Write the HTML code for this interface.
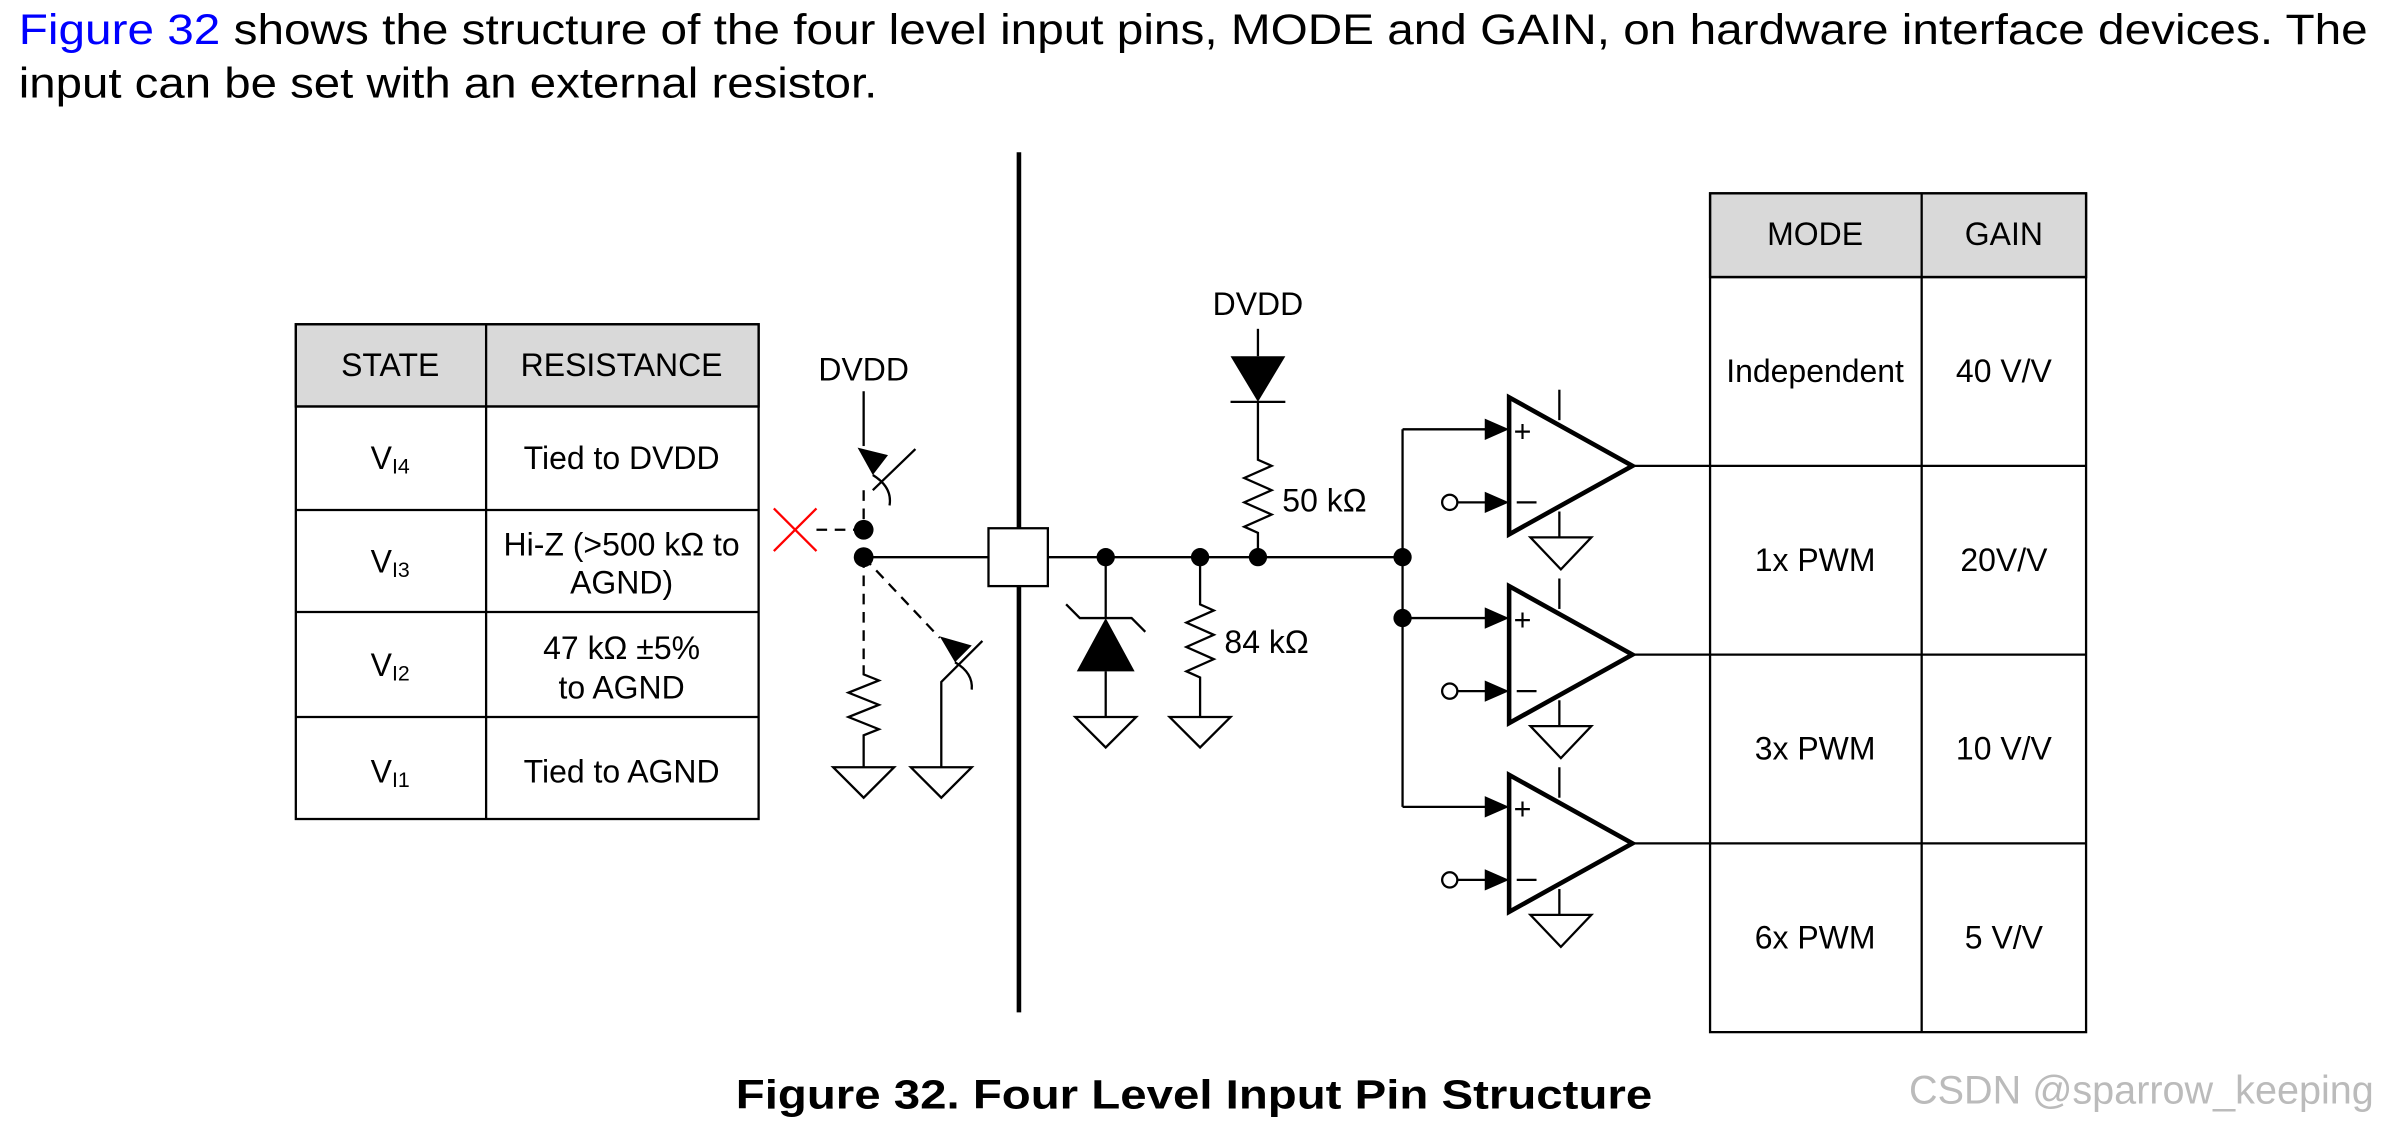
<!DOCTYPE html>
<html><head><meta charset="utf-8"><style>html,body{margin:0;padding:0;background:#fff;}svg{display:block}</style></head>
<body>
<svg xmlns="http://www.w3.org/2000/svg" width="2388" height="1125" viewBox="0 0 1568 739" font-family="Liberation Sans, sans-serif">
<rect width="1568" height="739" fill="#fff"/>
<!-- header text -->
<text x="12" y="29" font-size="28" textLength="1543" lengthAdjust="spacingAndGlyphs"><tspan fill="#0000ff">Figure 32</tspan> shows the structure of the four level input pins, MODE and GAIN, on hardware interface devices. The</text>
<text x="12" y="64" font-size="28" textLength="564" lengthAdjust="spacingAndGlyphs">input can be set with an external resistor.</text>

<!-- left table -->
<g stroke="#000" stroke-width="1.5" fill="none">
<rect x="194" y="213" width="304" height="54" fill="#d9d9d9"/>
<rect x="194" y="213" width="304" height="325"/>
<line x1="319" y1="213" x2="319" y2="538"/>
<line x1="194" y1="267" x2="498" y2="267"/>
<line x1="194" y1="335" x2="498" y2="335"/>
<line x1="194" y1="402" x2="498" y2="402"/>
<line x1="194" y1="471" x2="498" y2="471"/>
</g>
<g font-size="21" text-anchor="middle">
<text x="256" y="247">STATE</text><text x="408" y="247">RESISTANCE</text>
<text x="256" y="308">V<tspan font-size="14" dy="3">I4</tspan></text>
<text x="408" y="308">Tied to DVDD</text>
<text x="256" y="376">V<tspan font-size="14" dy="3">I3</tspan></text>
<text x="408" y="365">Hi-Z (&gt;500 kΩ to</text><text x="408" y="390">AGND)</text>
<text x="256" y="444">V<tspan font-size="14" dy="3">I2</tspan></text>
<text x="408" y="433">47 kΩ ±5%</text><text x="408" y="459">to AGND</text>
<text x="256" y="514">V<tspan font-size="14" dy="3">I1</tspan></text>
<text x="408" y="514">Tied to AGND</text>
</g>

<!-- right table -->
<g stroke="#000" stroke-width="1.5" fill="none">
<rect x="1123" y="127" width="247" height="55" fill="#d9d9d9"/>
<rect x="1123" y="127" width="247" height="551"/>
<line x1="1262" y1="127" x2="1262" y2="678"/>
<line x1="1123" y1="182" x2="1370" y2="182"/>
<line x1="1123" y1="306" x2="1370" y2="306"/>
<line x1="1123" y1="430" x2="1370" y2="430"/>
<line x1="1123" y1="554" x2="1370" y2="554"/>
</g>
<g font-size="21" text-anchor="middle">
<text x="1192" y="161">MODE</text><text x="1316" y="161">GAIN</text>
<text x="1192" y="251">Independent</text><text x="1316" y="251">40 V/V</text>
<text x="1192" y="375">1x PWM</text><text x="1316" y="375">20V/V</text>
<text x="1192" y="499">3x PWM</text><text x="1316" y="499">10 V/V</text>
<text x="1192" y="623">6x PWM</text><text x="1316" y="623">5 V/V</text>
</g>

<!-- pin boundary -->
<line x1="669" y1="100" x2="669" y2="665" stroke="#000" stroke-width="3"/>
<rect x="649" y="347" width="39" height="38" fill="#fff" stroke="#000" stroke-width="1.5"/>

<g stroke="#000" stroke-width="1.5" fill="none">
<line x1="567" y1="257" x2="567" y2="293"/>
<line x1="573" y1="322" x2="601" y2="295"/>
<path d="M573 312 Q586 320 584 332"/>
<line x1="567" y1="322" x2="567" y2="348" stroke-dasharray="7,5"/>
<line x1="536" y1="348" x2="567" y2="348" stroke-dasharray="7,5"/>
<line x1="567" y1="366" x2="649" y2="366"/>
<line x1="567" y1="366" x2="567" y2="437" stroke-dasharray="7,5"/>
<polyline points="567,437 567,443 577,447 557,455 577,463 557,471 577,479 567,483 567,504"/>
<line x1="567" y1="366" x2="617" y2="419" stroke-dasharray="7,5"/>
<polyline points="645,421 618,448 618,504"/>
<path d="M627 435 Q639 442 638 453"/>
<polygon points="547,504 587,504 567,524"/>
<polygon points="598,504 638,504 618,524"/>
<line x1="688" y1="366" x2="921" y2="366"/>
<line x1="726" y1="366" x2="726" y2="406"/>
<polyline points="700,397 709,406 743,406 752,415"/>
<line x1="726" y1="441" x2="726" y2="471"/>
<polygon points="706,471 746,471 726,491"/>
<polyline points="788,366 788,397 797,401 779,409 797,417 779,425 797,433 779,441 788,445 788,471"/>
<polygon points="768,471 808,471 788,491"/>
<line x1="826" y1="216" x2="826" y2="234"/>
<line x1="808" y1="264" x2="844" y2="264"/>
<polyline points="826,264 826,302 835,306 817,314 835,322 817,330 835,338 817,346 826,350 826,366"/>
<polyline points="921,530 921,282"/>
<line x1="921" y1="282" x2="985" y2="282"/>
<line x1="921" y1="406" x2="985" y2="406"/>
<line x1="921" y1="530" x2="985" y2="530"/>
</g>
<g fill="#000">
<polygon points="573,312 563,294 583,299"/>
<polygon points="627,435 617,418 638,424"/>
<circle cx="567" cy="348" r="6.5"/><circle cx="567" cy="366" r="6.5"/>
<circle cx="726" cy="366" r="6"/><circle cx="788" cy="366" r="6"/><circle cx="826" cy="366" r="6"/>
<circle cx="921" cy="366" r="6"/><circle cx="921" cy="406" r="6"/>
<polygon points="726,406 707,441 745,441"/>
<polygon points="808,234 844,234 826,264"/>
</g>
<line x1="508" y1="334" x2="536" y2="362" stroke="#f00" stroke-width="1.5"/>
<line x1="508" y1="362" x2="536" y2="334" stroke="#f00" stroke-width="1.5"/>
<g font-size="21">
<text x="567" y="250" text-anchor="middle">DVDD</text>
<text x="826" y="207" text-anchor="middle">DVDD</text>
<text x="842" y="336">50 kΩ</text>
<text x="804" y="429">84 kΩ</text>
</g>

<!-- opamps -->
<g id="op">
<g stroke="#000" stroke-width="1.5" fill="none">
<line x1="1024" y1="256" x2="1024" y2="276"/>
<line x1="1024" y1="336" x2="1024" y2="353"/>
<polygon points="1005,353 1045,353 1025,374"/>
<circle cx="952" cy="330" r="5" fill="#fff"/>
<line x1="957" y1="330" x2="985" y2="330"/>
<line x1="1072" y1="306" x2="1123" y2="306"/>
</g>
<polygon points="991,261 991,351 1072,306" fill="#fff" stroke="#000" stroke-width="3"/>
<polygon points="975,323 991,330 975,337" fill="#000"/>
<polygon points="975,275 991,282 975,289" fill="#000"/>
<text x="994" y="290" font-size="20">+</text>
<line x1="996" y1="330" x2="1009" y2="330" stroke="#000" stroke-width="1.5"/>
</g>
<use href="#op" y="124"/>
<use href="#op" y="248"/>

<text x="483" y="728" font-size="27" font-weight="bold" textLength="602" lengthAdjust="spacingAndGlyphs">Figure 32.  Four Level Input Pin Structure</text>
<text x="1559" y="725" font-size="26" fill="#bbb" text-anchor="end">CSDN @sparrow_keeping</text>
</svg>
</body></html>
